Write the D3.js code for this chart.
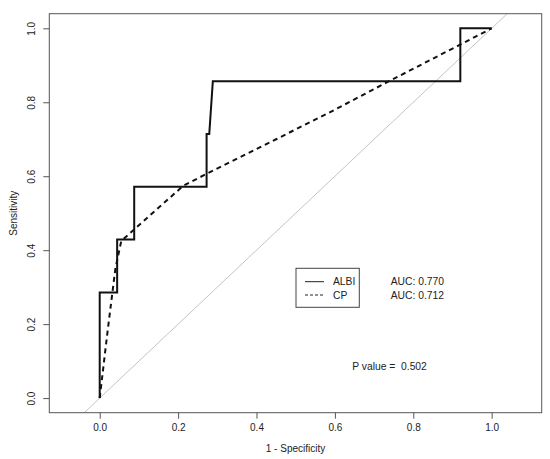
<!DOCTYPE html>
<html>
<head>
<meta charset="utf-8">
<script src="https://cdn.jsdelivr.net/npm/d3@7"></script>
<style>
  body { margin: 0; background: #fff; }
  text { font-family: "Liberation Sans", Arial, sans-serif; fill: #222; white-space: pre; }
</style>
</head>
<body>
<div id="chart"></div>
<script>
// ROC data (1 - specificity, sensitivity)
var albiFpr = [0, 0, 0.0445, 0.0445, 0.088, 0.088, 0.2727, 0.2727, 0.2795, 0.2886, 0.92, 0.92, 1.0];
var albiTpr = [0, 0.2857, 0.2857, 0.4286, 0.4286, 0.5714, 0.5714, 0.7143, 0.7143, 0.8571, 0.8571, 1.0, 1.0];
var cpFpr = [0, 0.02, 0.04, 0.055, 0.09, 0.213, 0.27, 0.33, 0.45, 0.6, 0.74, 0.92, 1.0];
var cpTpr = [0, 0.18, 0.35, 0.425, 0.458, 0.574, 0.605, 0.637, 0.70, 0.78, 0.858, 0.956, 1.0];
var xTicks = [0, 0.2, 0.4, 0.6, 0.8, 1.0];
var yTicks = [0, 0.2, 0.4, 0.6, 0.8, 1.0];
var legendNames = ["ALBI", "CP"];
var aucLabels = ["AUC: 0.770", "AUC: 0.712"];
var pLabel = "P value =  0.502";

var svgWidth = 550, svgHeight = 459;
// plot box edges in pixels
var margin = { top: 13.7, right: 8.3, bottom: 46.3, left: 49.3 };

var svg = d3.select("#chart").append("svg")
  .attr("width", svgWidth)
  .attr("height", svgHeight);

// scales: unit range with the padding R adds around it
var x = d3.scaleLinear()
  .domain([-0.1286, 1.1276])
  .range([margin.left, svgWidth - margin.right]);
var y = d3.scaleLinear()
  .domain([-0.0395, 1.0395])
  .range([svgHeight - margin.bottom, margin.top]);

svg.append("clipPath").attr("id", "plotclip")
  .append("rect")
  .attr("x", margin.left).attr("y", margin.top)
  .attr("width", svgWidth - margin.left - margin.right)
  .attr("height", svgHeight - margin.top - margin.bottom);

// reference diagonal
svg.append("line")
  .attr("clip-path", "url(#plotclip)")
  .attr("x1", x(-0.2)).attr("y1", y(-0.2))
  .attr("x2", x(1.2)).attr("y2", y(1.2))
  .attr("stroke", "#c4c4c4")
  .attr("stroke-width", 1);

// curves
var line = d3.line()
  .x(d => x(d[0]))
  .y(d => y(d[1]));

svg.append("path")
  .datum(d3.zip(cpFpr, cpTpr))
  .attr("d", line)
  .attr("fill", "none")
  .attr("stroke", "#111")
  .attr("stroke-width", 2)
  .attr("stroke-dasharray", "5,4");

svg.append("path")
  .datum(d3.zip(albiFpr, albiTpr))
  .attr("d", line)
  .attr("fill", "none")
  .attr("stroke", "#111")
  .attr("stroke-width", 2);

// axes
var xAxis = svg.append("g")
  .attr("transform", `translate(0, ${svgHeight - margin.bottom})`)
  .call(d3.axisBottom(x).tickValues(xTicks).tickFormat(d3.format(".1f")).tickSize(6).tickPadding(5));
var yAxis = svg.append("g")
  .attr("transform", `translate(${margin.left}, 0)`)
  .call(d3.axisLeft(y).tickValues(yTicks).tickFormat(d3.format(".1f")).tickSize(6).tickPadding(0));
[xAxis, yAxis].forEach(function(g) {
  g.select(".domain").remove();
  g.selectAll(".tick line").attr("stroke", "#555");
  g.selectAll(".tick text")
    .attr("font-family", "Liberation Sans, Arial, sans-serif")
    .attr("font-size", 10)
    .attr("fill", "#222");
});
// y tick labels run along the axis
yAxis.selectAll(".tick text")
  .attr("x", 0).attr("dy", null)
  .attr("text-anchor", "middle")
  .attr("transform", "translate(-14,0) rotate(-90)");

// plot box
svg.append("rect")
  .attr("x", margin.left).attr("y", margin.top)
  .attr("width", svgWidth - margin.left - margin.right)
  .attr("height", svgHeight - margin.top - margin.bottom)
  .attr("fill", "none")
  .attr("stroke", "#555")
  .attr("stroke-width", 1);

// axis titles
svg.append("text")
  .attr("x", (margin.left + svgWidth - margin.right) / 2)
  .attr("y", 452)
  .attr("text-anchor", "middle")
  .attr("font-size", 10)
  .text("1 - Specificity");
svg.append("text")
  .attr("transform", `translate(16.5, ${(margin.top + svgHeight - margin.bottom) / 2}) rotate(-90)`)
  .attr("text-anchor", "middle")
  .attr("font-size", 10)
  .text("Sensitivity");

// legend
var legend = svg.append("g");
legend.append("rect")
  .attr("x", 296).attr("y", 268.3)
  .attr("width", 63.3).attr("height", 39)
  .attr("fill", "#fff")
  .attr("stroke", "#444")
  .attr("stroke-width", 1);
legendNames.forEach(function(name, i) {
  var ly = 281.7 + i * 13.3;
  legend.append("line")
    .attr("x1", 305).attr("x2", 324)
    .attr("y1", ly).attr("y2", ly)
    .attr("stroke", "#222")
    .attr("stroke-width", 1)
    .attr("stroke-dasharray", i === 1 ? "3,2" : null);
  legend.append("text")
    .attr("x", 333).attr("y", ly + 3.5)
    .attr("font-size", 10.3)
    .text(name);
  svg.append("text")
    .attr("x", 390.7).attr("y", ly + 3.5)
    .attr("font-size", 10.3)
    .text(aucLabels[i]);
});

svg.append("text")
  .attr("x", 352.3).attr("y", 369.5)
  .attr("font-size", 10.3)
  .text(pLabel);
</script>
</body>
</html>
